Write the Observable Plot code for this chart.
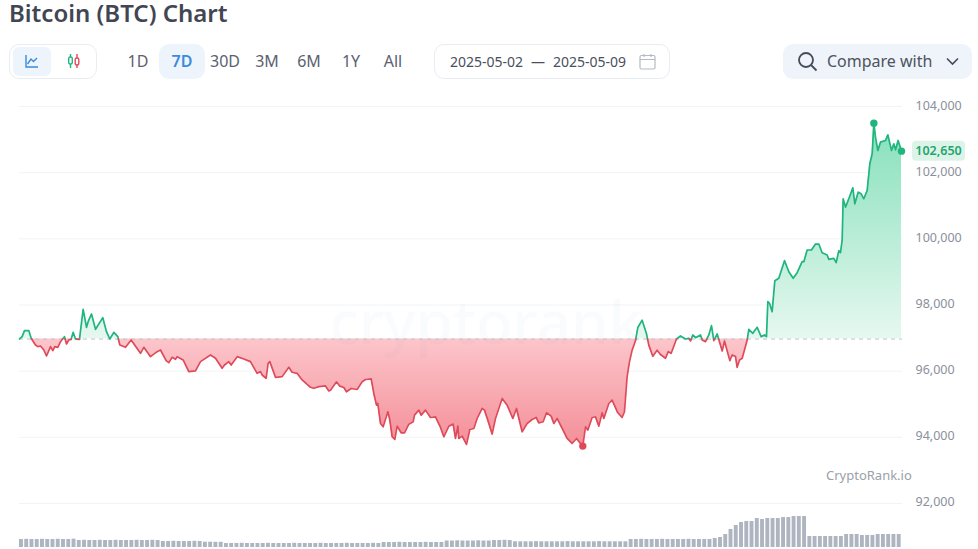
<!DOCTYPE html>
<html>
<head>
<meta charset="utf-8">
<script src="https://cdn.jsdelivr.net/npm/d3@7"></script>
<script src="https://cdn.jsdelivr.net/npm/@observablehq/plot@0.6"></script>
<style>
  html,body{margin:0;padding:0;background:#fff;font-family:"Noto Sans","Open Sans",sans-serif;}
  #page{position:relative;width:978px;height:549px;overflow:hidden;}
  #head{position:absolute;left:0;top:0;width:978px;height:90px;}
  #chart{position:absolute;left:0;top:90px;}
  .abs{position:absolute;box-sizing:border-box;}
  .title{left:9px;top:0;font-size:24px;font-weight:600;color:#414653;white-space:nowrap;line-height:26px;}
  .box{border:1px solid #e9edf3;border-radius:10px;background:#fff;}
  .rng{top:44px;height:35px;line-height:35px;width:46px;text-align:center;font-size:16px;color:#5b6170;border-radius:10px;}
  .rng.on{background:#eef4fb;color:#3a8bdc;font-weight:600;}
  .date{top:44px;height:35px;line-height:35px;font-size:14px;color:#4a4f5c;white-space:nowrap;}
  .cmp{left:783px;top:44px;width:189px;height:35px;background:#eff3fa;border-radius:10px;}
  .mark{left:826px;top:465px;font-size:13px;color:#9ba0a9;white-space:nowrap;line-height:20px;}
</style>
</head>
<body>
<div id="page">
  <div id="head">
    <div class="abs title">Bitcoin (BTC) Chart</div>
    <div class="abs box" style="left:9px;top:44px;width:88px;height:35px;"></div>
    <div class="abs" style="left:13px;top:47px;width:38px;height:29px;background:#eef4fb;border-radius:6px;"></div>
    <svg class="abs" style="left:24px;top:53px" width="16" height="16" viewBox="0 0 16 16" fill="none" stroke="#3a8bdc" stroke-width="1.4"><path d="M2 2v12h12"/><path d="M3.5 11l3.5-5 2.500 2.500L13 5"/></svg>
    <svg class="abs" style="left:66px;top:53px" width="16" height="16" viewBox="0 0 16 16" fill="none" stroke-width="1.400"><g stroke="#22b47e"><path d="M4.500 1v14"/><rect x="2.700" y="4" width="3.600" height="7" rx="1.500" fill="#fff"/></g><g stroke="#e5495c"><path d="M11 1v14"/><rect x="9.200" y="5" width="3.600" height="7" rx="1.500" fill="#fff"/></g></svg>
    <div class="abs rng" style="left:115px;">1D</div>
    <div class="abs rng on" style="left:159px;">7D</div>
    <div class="abs rng" style="left:202px;">30D</div>
    <div class="abs rng" style="left:244px;">3M</div>
    <div class="abs rng" style="left:286px;">6M</div>
    <div class="abs rng" style="left:328px;">1Y</div>
    <div class="abs rng" style="left:370px;">All</div>
    <div class="abs box" style="left:434px;top:44px;width:236px;height:35px;"></div>
    <div class="abs date" style="left:450px;">2025-05-02</div>
    <div class="abs date" style="left:531px;">—</div>
    <div class="abs date" style="left:553px;">2025-05-09</div>
    <svg class="abs" style="left:639px;top:53px" width="17" height="17" viewBox="0 0 17 17" fill="none" stroke="#b5b9c1" stroke-width="1.200"><rect x="1" y="2.500" width="15" height="13.500" rx="1.500"/><path d="M1 6.500h15M5 1v3M12 1v3"/></svg>
    <div class="abs cmp"></div>
    <svg class="abs" style="left:797px;top:51px" width="21" height="21" viewBox="0 0 21 21" fill="none" stroke="#454b58" stroke-width="1.800"><circle cx="9" cy="9" r="7"/><path d="M14 14l5.500 5.500"/></svg>
    <div class="abs" style="left:827px;top:44px;height:35px;line-height:35px;font-size:16px;color:#4d5360;white-space:nowrap;">Compare with</div>
    <svg class="abs" style="left:945px;top:56px" width="15" height="11" viewBox="0 0 15 11" fill="none" stroke="#454b58" stroke-width="1.600"><path d="M2 2.500l5.500 5.500L13 2.500"/></svg>
  </div>
  <div id="chart"></div>
  <div class="abs mark">CryptoRank.io</div>
</div>
<script>
const ticks = [92000, 94000, 96000, 98000, 100000, 102000, 104000];
const basePrice = 96970;

const hours = [0,.5,.95,1.78,2.22,3.04,3.49,4,4.63,5.14,5.9,6.34,6.72,7.29,7.8,8.56,8.94,9.38,9.83,10.21,10.65,11.41,12.11,12.75,13.06,13.7,14.46,15.85,16.55,17.18,17.95,18.71,19.09,20.17,21.24,23.02,23.65,24.92,26.19,26.82,27.9,28.41,29.04,29.68,29.99,31.14,32.21,33.48,34.43,36.33,37.29,38.55,39,39.82,40.27,41.41,42.68,43.94,45.21,45.85,46.16,46.92,47.3,47.62,48.7,49.97,51.24,51.87,52.82,53.77,55.36,55.99,56.94,58.21,58.85,
59.17,60.31,60.95,61.71,62.21,63.1,64.24,65.19,65.83,66.91,67.41,67.92,68.17,68.68,69.19,70.08,70.46,70.9,71.41,71.85,72.61,73.25,74.07,74.9,75.15,75.97,76.42,77.24,78.19,79.14,80.1,80.73,81.68,82.5,82.95,83.39,83.58,84.22,85.04,85.68,86.44,87.07,88.02,88.47,89.1,89.92,90.56,91.83,92.78,93.86,94.55,95.63,96.58,97.53,98.29,98.8,99.63,100.26,101.15,101.66,102.29,103.24,104.19,105.14,105.97,106.73,107.17,107.68,108.12,108.95,109.58,110.22,110.85,111.17,112.12,112.75,113.83,114.65,115.1,115.6,116.05,116.56,117.19,117.64,118.46,119.28,119.73,120.49,121.31,121.95,
122.91,123.42,123.99,125,125.76,126.72,127.35,127.67,128.11,128.62,129.57,129.89,130.52,131.15,131.66,132.11,132.74,133.69,134.13,135.15,135.59,136.23,136.54,136.99,137.5,138.45,138.76,139.52,140.35,141.11,141.74,142.12,142.38,142.7,143.2,143.71,144.47,145.55,146.37,147.2,147.96,148.91,149.23,149.86,150.68,151.45,152.08,152.71,153.66,153.98,154.93,155.38,155.89,156.2,156.52,156.71,157.16,157.79,158.55,158.93,159.57,160.14,160.64,161.28,161.78,162.23,162.55,162.86,163.31,163.81,164.77,165.21,165.91,166.35,166.67,167.17,167.81];

const prices = [96973,97043,97225,97225,96993,96791,96741,96761,96640,96459,96741,96620,96741,96721,96892,97043,96822,96943,96963,97174,96973,96963,97869,97325,97496,97728,97265,97617,97194,96973,97174,97043,96791,96721,96943,96540,96721,96439,96590,96640,96318,96258,96419,96358,96439,96338,95986,96006,96288,96489,96389,96087,96187,96288,96187,96439,96369,96288,95935,95986,95885,95785,96238,96288,95815,95835,96117,95966,95935,95734,95513,95482,95533,95553,95402,
95426,95678,95547,95507,95376,95477,95446,95678,95749,95769,95326,94973,95023,94419,94319,94772,94520,94017,93936,94339,94137,94137,94399,94470,94671,94822,94671,94822,94600,94621,94298,94017,94339,94399,93966,94339,93966,94037,93785,94238,94268,94570,94872,94822,94520,94097,94570,95175,94973,94570,94872,94168,94419,94540,94600,94439,94470,94742,94641,94419,94570,94268,93966,93815,93966,93815,93735,94319,94218,94600,94621,94339,94742,94570,95023,95124,94742,94600,94772,95829,96282,96635,96917,97319,97541,97138,96786,96453,96635,96504,
96389,96590,96540,96973,97064,96973,96993,96913,97094,97013,97094,96943,96893,97094,97376,96923,97124,96611,96913,96319,96490,96440,96117,96339,96389,96943,97265,97144,97326,97044,97094,97044,98101,98051,97799,98735,98806,99340,99007,98806,98977,99309,99309,99662,99662,99843,99843,99581,99511,99380,99410,99279,99642,99581,99964,101210,100959,101210,101543,101059,101412,101361,101210,101462,102268,102570,103496,103073,102670,102922,102973,103144,102670,102872,102691,102973,102650];

// hourly volume, relative units
const volumes = [8,8.2,8,8,8.2,8,8,8.2,8,8,8.3,7,7.2,7,7,7.2,7,7,7.2,7,7,7,7.2,7,7,7.2,7,6,6,6.2,6,6,6,6.2,6,5.3,5.3,5.2,5.2,4,4,4,4.2,4,4,4,4,4.2,4,4,4,4,4.2,4,4,4,4,4.2,4,4,4,4,4.2,4,4,4,4,4.2,4,5,5,5,5.2,5,5,5,5,5.2,5,5,5,6.5,6.5,6.7,6.5,6.5,6.5,6.7,6.5,6.5,7,7,7.2,7,5.7,5.7,5.7,5.7,5.9,5.7,5.7,5.7,5.7,5.7,5.9,5.7,5.7,5.7,5.7,5.7,5.9,5.7,5.7,5.7,5.7,5.7,8,8,8.2,8,8,8,8.2,8,8,8,8,8.2,8,8,8,8,9,10,13,18,22,25,26,26,29,28,29,29,29,30,30,31,31,31,11,11,11,11,11,11,11,13,13,13,12,12,12,13,13,13,13,13];

const volumeFloor = 90670;
const volumeUnit = 30.2;

// Split the series where it crosses the opening price so each side takes its colour.
const segRows = [];
let seg = 0;
prices.forEach((p, i) => {
  if (i > 0) {
    const q = prices[i - 1], g = hours[i - 1];
    if ((q - basePrice) * (p - basePrice) < 0) {
      const t = (basePrice - q) / (p - q), hx = g + t * (hours[i] - g);
      segRows.push({hour: hx, price: basePrice, seg, up: q > basePrice});
      seg++;
      segRows.push({hour: hx, price: basePrice, seg, up: p > basePrice});
    }
  }
  segRows.push({hour: hours[i], price: p, seg, up: p >= basePrice});
});
const segUp = new Map();
segRows.forEach(d => { if (d.price !== basePrice && !segUp.has(d.seg)) segUp.set(d.seg, d.price > basePrice); });
segRows.forEach(d => { d.up = segUp.get(d.seg); });

const iMax = prices.indexOf(Math.max(...prices));
const iMin = prices.indexOf(Math.min(...prices));
const last = prices.length - 1;

const gradients = (index, {y}) => {
  const defs = d3.create("svg:defs");
  const add = (id, a, b, stops) => {
    const g = defs.append("linearGradient").attr("id", id).attr("gradientUnits", "userSpaceOnUse")
      .attr("x1", 0).attr("x2", 0).attr("y1", y(a)).attr("y2", y(b));
    stops.forEach(([o, c]) => g.append("stop").attr("offset", o).attr("stop-color", c));
  };
  add("gUp", 103500, basePrice, [[0, "#86e0bb"], [1, "#e6f8f0"]]);
  add("gDown", basePrice, 93700, [[0, "#fcc6cb"], [1, "#f48e98"]]);
  return defs.node();
};

const pill = (index, {y}) => {
  const r = d3.create("svg:rect");
  r.attr("x", 912).attr("y", y(prices[last]) - 10).attr("width", 53).attr("height", 20)
   .attr("rx", 4).attr("fill", "#dcf3e7");
  return r.node();
};

const volRows = volumes.map((v, i) => ({i, v}));

const plot = Plot.plot({
  width: 978,
  height: 459,
  marginLeft: 19,
  marginRight: 76,
  marginTop: 16,
  marginBottom: 2,
  style: {background: "transparent", fontFamily: "'Noto Sans',sans-serif", color: "#8a909c", overflow: "visible"},
  x: {domain: [0, 168], axis: null},
  y: {domain: [volumeFloor, 104000]},
  marks: [
    gradients,
    Plot.ruleY(ticks, {stroke: "#f2f3f6", strokeWidth: 1}),
    Plot.axisY(ticks, {anchor: "right", tickSize: 0, tickPadding: 13, fontSize: 12.5, dy: -1, tickFormat: d3.format(","), label: null}),
    Plot.areaY(segRows, {filter: d => d.up, x: "hour", y1: () => basePrice, y2: "price", z: "seg", fill: "url(#gUp)"}),
    Plot.areaY(segRows, {filter: d => !d.up, x: "hour", y1: () => basePrice, y2: "price", z: "seg", fill: "url(#gDown)"}),
    Plot.text(["cryptorank"], {x: () => 88.7, y: () => 97400, fontSize: 60, fontWeight: 500, fill: "#4d86c8", fillOpacity: 0.035}),
    Plot.ruleY([basePrice], {stroke: "#bfc3c9", strokeDasharray: "4 4", strokeWidth: 1}),
    Plot.line(segRows, {filter: d => d.up, x: "hour", y: "price", z: "seg", stroke: "#20b57f", strokeWidth: 1.7}),
    Plot.line(segRows, {filter: d => !d.up, x: "hour", y: "price", z: "seg", stroke: "#df4a5a", strokeWidth: 1.7}),
    Plot.dot([iMax, last], {x: i => hours[i], y: i => prices[i], r: 3.7, fill: "#20b57f"}),
    Plot.dot([iMin], {x: i => hours[i], y: i => prices[i], r: 3.7, fill: "#df4a5a"}),
    pill,
    Plot.text([last], {x: () => 168, y: i => prices[i], text: i => d3.format(",")(prices[i]), dx: 36, fontSize: 12.5, fontWeight: 600, fill: "#1fa56f"}),
    Plot.rectY(volRows, {x1: "i", x2: d => d.i + 0.74, y1: () => volumeFloor, y2: d => volumeFloor + d.v * volumeUnit, fill: "#aeb4c0"})
  ]
});
document.getElementById("chart").appendChild(plot);
</script>
</body>
</html>
